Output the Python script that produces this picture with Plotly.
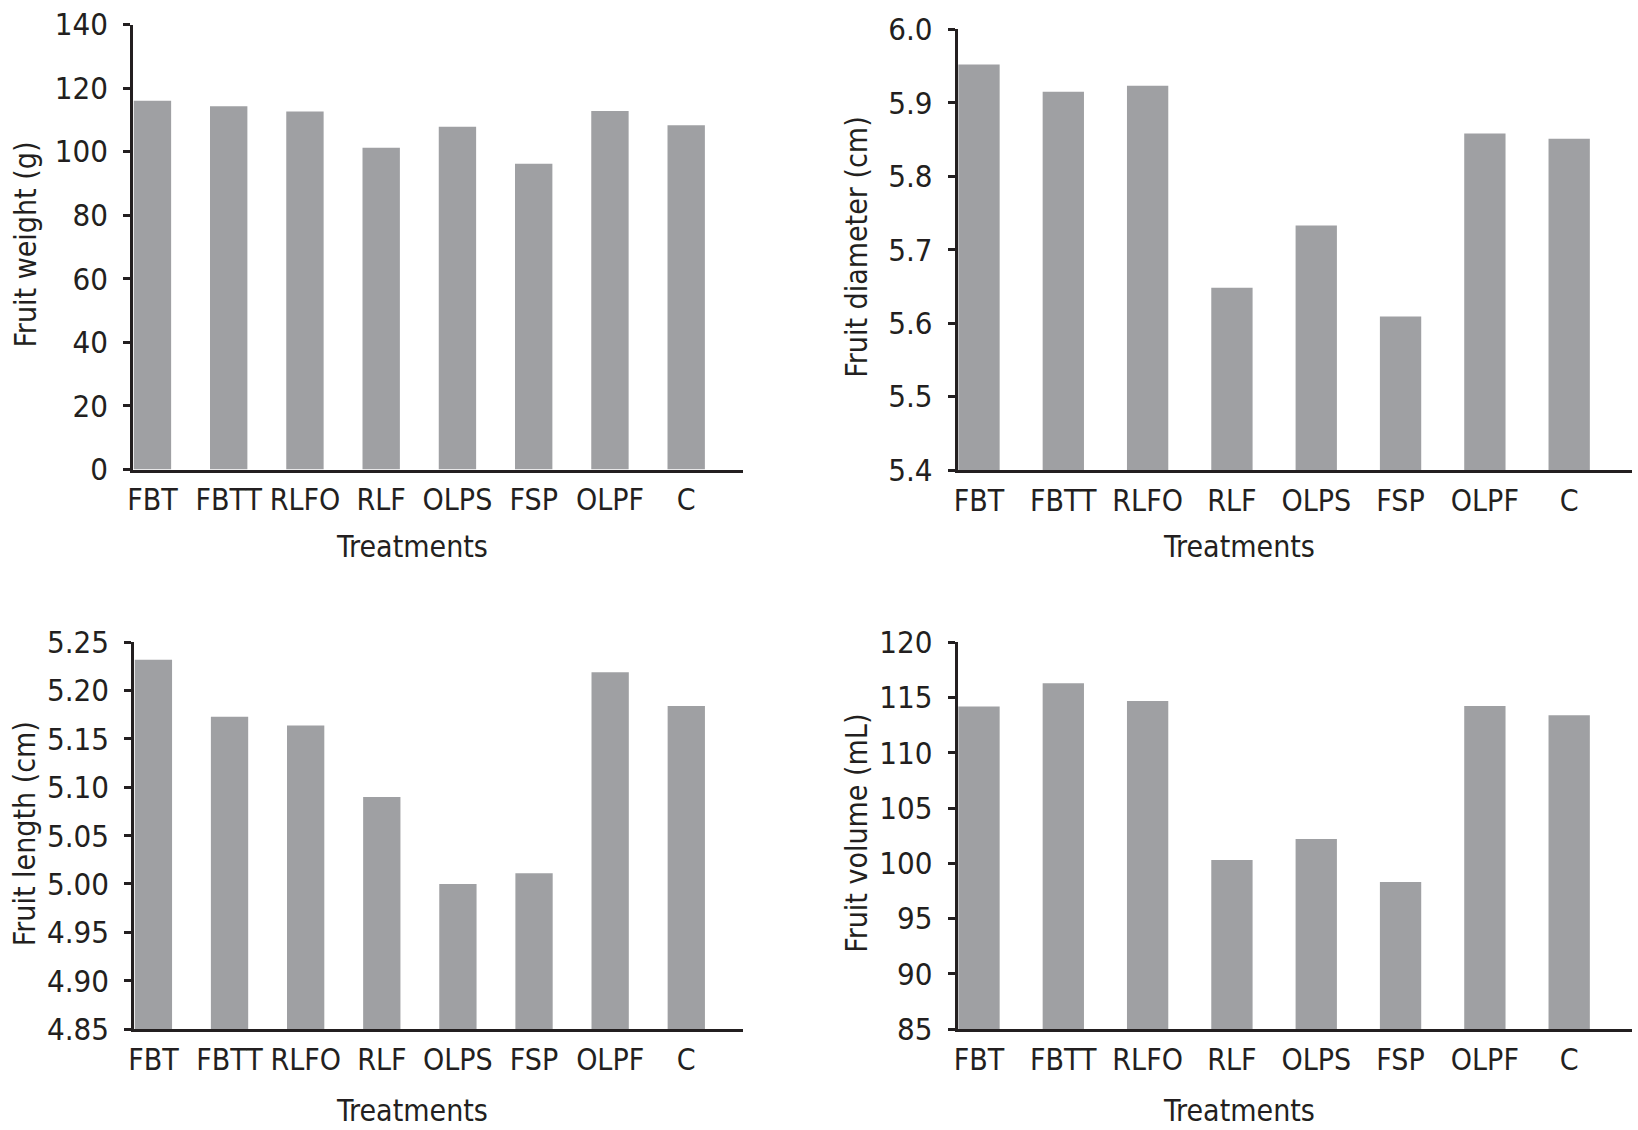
import plotly.graph_objects as go

treatments = ["FBT", "FBTT", "RLFO", "RLF", "OLPS", "FSP", "OLPF", "C"]
fruit_weight = [116.0, 114.3, 112.6, 101.2, 107.8, 96.2, 112.8, 108.3]
fruit_diameter = [5.952, 5.915, 5.923, 5.648, 5.733, 5.609, 5.858, 5.851]
fruit_length = [5.232, 5.173, 5.164, 5.090, 5.000, 5.011, 5.219, 5.184]
fruit_volume = [114.2, 116.3, 114.7, 100.3, 102.2, 98.3, 114.25, 113.4]

y_titles = ["Fruit weight (g)", "Fruit diameter (cm)", "Fruit length (cm)", "Fruit volume (mL)"]
x_title = "Treatments"

W, H = 1638, 1130
FONT = "Liberation Sans Narrow, DejaVu Sans Condensed, sans-serif"
INK = "#231f20"
BAR = "#9fa0a3"

# panel boxes in pixels: (x0, x1, ytop, ybottom)
boxes = [
    (133, 743, 24.5, 469.5),
    (957.5, 1632, 29.3, 470),
    (134, 743, 642.3, 1029),
    (957.5, 1632, 642.4, 1029),
]
yranges = [(0, 140, 20, ""), (5.4, 6.0, 0.1, ".1f"), (4.85, 5.25, 0.05, ".2f"), (85, 120, 5, "")]
series = [fruit_weight, fruit_diameter, fruit_length, fruit_volume]

fig = go.Figure()
layout = dict(
    template="none",
    width=W, height=H, margin=dict(l=0, r=0, t=0, b=0, autoexpand=False),
    paper_bgcolor="white", plot_bgcolor="white", showlegend=False,
    font=dict(family=FONT, size=30, color=INK), bargap=0.51,
)
annotations = []
for i, (vals, box, yr) in enumerate(zip(series, boxes, yranges)):
    n = "" if i == 0 else str(i + 1)
    x0, x1, yt, yb = box
    fig.add_trace(go.Bar(x=treatments, y=vals, marker=dict(color=BAR, line=dict(width=0)),
                         width=0.49, xaxis="x" + n, yaxis="y" + n))
    layout["xaxis" + n] = dict(
        domain=[x0 / W, x1 / W], anchor="y" + n, type="category", automargin=False,
        range=[-0.255, 7.745], showline=True, linewidth=2.5, linecolor=INK,
        ticks="", showgrid=False, zeroline=False, tickfont=dict(size=30, color=INK),
        ticklabelstandoff=2,
    )
    lo, hi, dt, fmt = yr
    layout["yaxis" + n] = dict(
        domain=[1 - yb / H, 1 - yt / H], anchor="x" + n, range=[lo, hi], automargin=False,
        tick0=lo, dtick=dt, tickformat=fmt, showline=True, linewidth=2.5, linecolor=INK,
        ticks="outside", ticklen=7, tickwidth=2.5, tickcolor=INK, showgrid=False,
        zeroline=False, tickfont=dict(size=31, color=INK), ticklabelstandoff=9,
    )
    # titles
    ytitle_x = 24.5 if i in (0, 2) else 857
    annotations.append(dict(text=y_titles[i], x=ytitle_x / W, y=1 - ((yt + yb) / 2 - 2) / H,
                            xref="paper", yref="paper", textangle=-90, showarrow=False,
                            xanchor="center", yanchor="middle", font=dict(size=30, color=INK)))
    tx = 411.6 if i in (0, 2) else 1239
    ty = 546 if i < 2 else 1110
    annotations.append(dict(text=x_title, x=tx / W, y=1 - ty / H, xref="paper", yref="paper",
                            showarrow=False, xanchor="center", yanchor="middle",
                            font=dict(size=30, color=INK)))

layout["annotations"] = annotations
fig.update_layout(**layout)
fig.write_html("out.html")
